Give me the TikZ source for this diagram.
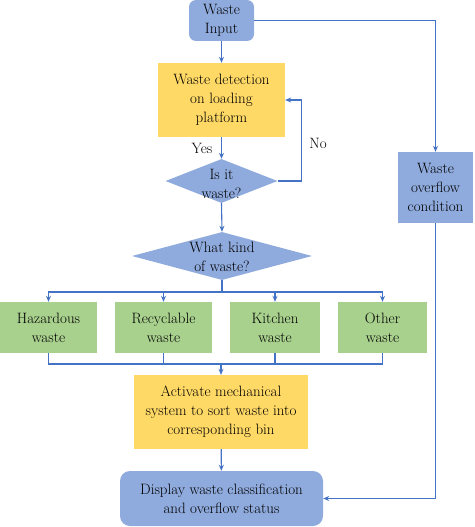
\documentclass[tikz,border=0pt]{standalone}
\usetikzlibrary{shapes.geometric,arrows.meta}
\definecolor{lineblue}{HTML}{4472C4}
\definecolor{termblue}{HTML}{8FAADC}
\definecolor{procyellow}{HTML}{FFD966}
\definecolor{classgreen}{HTML}{A9D18E}
\begin{document}
\begin{tikzpicture}[x=1pt,y=-1pt,
  every node/.style={font=\fontsize{15}{19}\selectfont, text=black, align=center, inner sep=0pt},
  term/.style={rectangle, rounded corners=7pt, fill=termblue},
  proc/.style={rectangle, fill=procyellow},
  kindbox/.style={rectangle, fill=classgreen, minimum height=51pt},
  decide/.style={diamond, fill=termblue},
  flow/.style={draw=lineblue, line width=1.1pt, -{Stealth[length=6pt,width=5pt]}},
  wire/.style={draw=lineblue, line width=1.1pt}]
  \useasboundingbox (0,0) rectangle (474,527);
  \node[term, minimum width=65pt, minimum height=41pt] (input) at (221.5,20.5) {Waste\\Input};
  \node[proc, minimum width=127pt, minimum height=74pt] (detect) at (221.5,100) {Waste detection\\on loading\\platform};
  \node[decide, minimum width=112pt, minimum height=44pt] (iswaste) at (221.5,181) {};
  \node (iswastetext) at (221.5,184) {Is it\\waste?};
  \node[decide, minimum width=180pt, minimum height=48pt] (kind) at (222,256) {};
  \node (kindtext) at (222,257) {What kind\\of waste?};
  \node[kindbox, minimum width=97pt] (haz) at (48.5,327.5) {Hazardous\\waste};
  \node[kindbox, minimum width=97pt] (rec) at (163.5,327.5) {Recyclable\\waste};
  \node[kindbox, minimum width=90pt] (kit) at (275,327.5) {Kitchen\\waste};
  \node[kindbox, minimum width=89pt] (oth) at (382.5,327.5) {Other\\waste};
  \node[proc, minimum width=174pt, minimum height=74pt] (act) at (221,412) {Activate mechanical\\system to sort waste into\\corresponding bin};
  \node[term, rounded corners=10pt, minimum width=203pt, minimum height=55pt] (disp) at (221.5,498.5) {Display waste classification\\and overflow status};
  \node[rectangle, fill=termblue, minimum width=75pt, minimum height=71pt] (overflow) at (435.5,187.5) {Waste\\overflow\\condition};
  \node (yes) at (202,148) {Yes};
  \node (no) at (318,143) {No};
  \coordinate (split) at (222,292);
  \coordinate (merge) at (221,364);

  \draw[flow] (input) -- (detect);
  \draw[flow] (detect) -- (iswaste);
  \draw[flow] (iswaste.east) -- ++(24,0) |- (detect.east);
  \draw[flow] (iswaste.south) -- (kind.north);
  \draw[wire] (kind.south) -- (split);
  \foreach \b in {haz,rec,kit,oth}
    \draw[flow] (split) -| (\b.north);
  \foreach \b in {haz,rec,kit,oth}
    \draw[wire] (\b.south) |- (merge);
  \draw[flow] (merge) -- (act.north);
  \draw[flow] (act) -- (disp);
  \draw[flow] (input.east) -| (overflow.north);
  \draw[flow] (overflow.south) |- (disp.east);
\end{tikzpicture}
\end{document}
